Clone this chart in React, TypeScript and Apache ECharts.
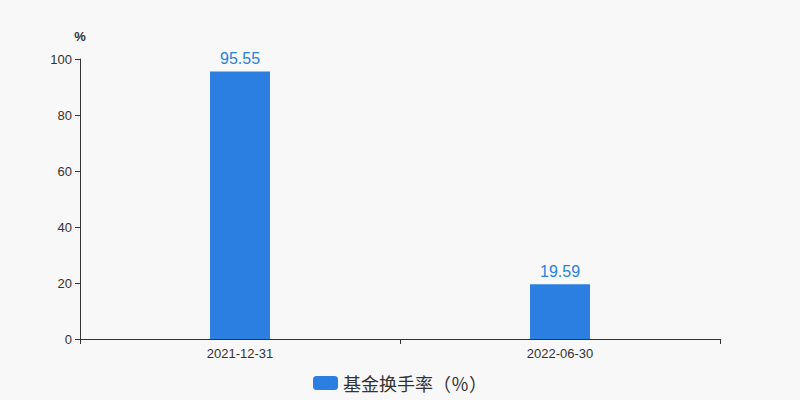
import React, { useEffect, useRef } from "react";
import * as echarts from "echarts";

const categories = ["2021-12-31", "2022-06-30"];
const values = [95.55, 19.59];
const seriesName = "基金换手率（％）";
const yTicks = { min: 0, max: 100, interval: 20 };

const FONT = "'Liberation Sans', Arial, sans-serif";

export default function App() {
  const ref = useRef<HTMLDivElement>(null);
  useEffect(() => {
    if (!ref.current) return;
    const chart = echarts.init(ref.current, undefined, { renderer: "svg" });
    chart.setOption({
      animation: false,
      backgroundColor: "#f8f8f8",
      textStyle: { fontFamily: FONT },
      grid: { left: 80, right: 80, top: 59, bottom: 61 },
      legend: {
        bottom: 3,
        left: "center",
        itemWidth: 25,
        itemHeight: 14,
        itemGap: 10,
        textStyle: { fontSize: 18, color: "#333", fontFamily: "'Noto Sans CJK SC', sans-serif" },
        data: [seriesName],
      },
      xAxis: {
        type: "category",
        data: categories,
        axisLine: { lineStyle: { color: "#333" } },
        axisTick: { show: true, alignWithLabel: false, lineStyle: { color: "#333" } },
        axisLabel: { color: "#333", fontSize: 13, margin: 8, fontFamily: FONT },
      },
      yAxis: {
        type: "value",
        name: "%",
        nameLocation: "end",
        nameTextStyle: { color: "#333", fontSize: 13, fontWeight: "bold", align: "center", fontFamily: FONT },
        nameGap: 16,
        min: yTicks.min,
        max: yTicks.max,
        interval: yTicks.interval,
        axisLine: { show: true, lineStyle: { color: "#333" } },
        axisTick: { show: true, lineStyle: { color: "#333" } },
        axisLabel: { color: "#333", fontSize: 13, fontFamily: FONT },
        splitLine: { show: false },
      },
      series: [
        {
          name: seriesName,
          type: "bar",
          data: values,
          barWidth: 60,
          itemStyle: { color: "#2b7fe0" },
          label: {
            show: true,
            position: "top",
            color: "#2b7fe0",
            fontSize: 16,
            fontFamily: FONT,
          },
        },
      ],
    });
    return () => chart.dispose();
  }, []);
  return <div ref={ref} style={{ width: 800, height: 400, position: "absolute", left: 0, top: 0 }} />;
}
